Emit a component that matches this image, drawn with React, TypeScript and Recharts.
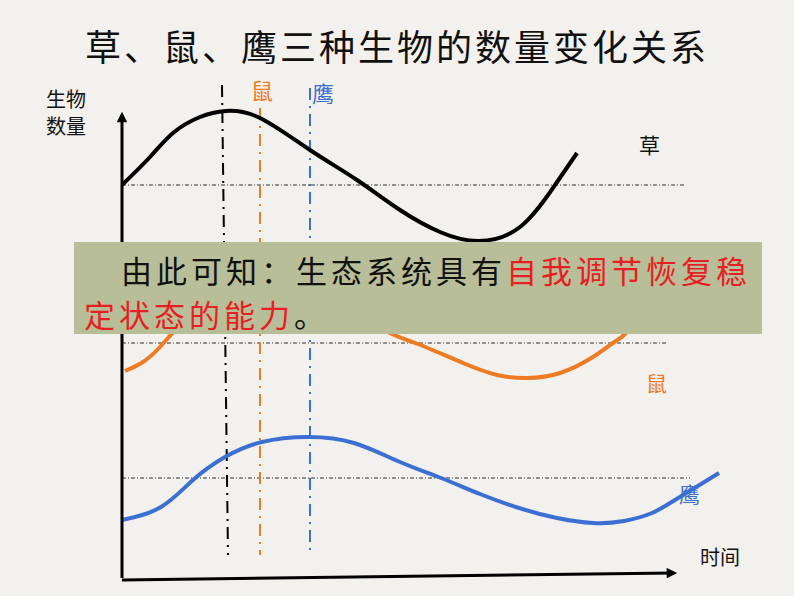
import { ComposedChart, Line, XAxis, YAxis, ReferenceLine } from "recharts";

// 时间轴单位 / 数量单位
const grassTime = [0, 2.8, 5.1, 7.8, 10.4, 13.8, 18.8, 23.5, 27.8, 31.8, 35.6, 39.8, 43.3, 45.5];
const grassCount = [78.6, 84.2, 89, 92.2, 93.4, 92, 85.6, 79.6, 73.6, 69.2, 67.4, 70.2, 78.6, 85];

const mouseTime = [0.3, 2.1, 3.8, 5.8, 8.8, 11.8, 14, 17.8, 22.8, 27, 29.6, 34.1, 37.5, 40.5, 43.8, 47.1, 49.1, 50.3, 51.8];
const mouseCount = [41.4, 43.2, 46.2, 50.6, 55.6, 58, 58.6, 57.2, 53, 48.8, 46.8, 43, 40.6, 40, 41, 44.2, 47, 48.8, 52.6];

const hawkTime = [0, 3.9, 7.1, 10.3, 14, 18.6, 23.2, 27.8, 31.9, 35.8, 39.7, 43.5, 47.1, 50.2, 53, 55.3, 59.7];
const hawkCount = [11.6, 14.2, 19.6, 24.2, 27.2, 28.2, 27, 23.2, 20, 16.8, 14, 12, 11, 11.4, 13, 15.6, 21];

// 平衡水平（虚线）
const grassLevel = 78.6;
const mouseLevel = 47;
const hawkLevel = 20;

// 各自峰值时刻
const grassPeak = 10.3;
const mousePeak = 13.8;
const hawkPeak = 18.8;

const toRows = (ts: number[], vs: number[]) => ts.map((t, i) => ({ t, v: vs[i] }));

const grassData = toRows(grassTime, grassCount);
const mouseData = toRows(mouseTime, mouseCount);
const hawkData = toRows(hawkTime, hawkCount);

const ORANGE = "#ee7a22";
const BLUE = "#3c6fd2";
const RED = "#e61f25";
const FONT = '"Noto Sans CJK SC", "Noto Sans", sans-serif';

const label = (text: string, left: number, top: number, size: number, color: string) => (
  <div style={{ position: "absolute", left, top, fontSize: size, color, lineHeight: 1, fontFamily: FONT }}>{text}</div>
);

export default function App() {
  return (
    <div
      style={{
        position: "absolute",
        left: 0,
        top: 0,
        width: 794,
        height: 596,
        overflow: "hidden",
        background: "#f3f1ed",
        fontFamily: FONT,
      }}
    >
      <div
        style={{
          position: "absolute",
          left: 0,
          width: 794,
          top: 27,
          textAlign: "center",
          fontSize: 36,
          letterSpacing: 3,
          lineHeight: 1,
          color: "#111",
        }}
      >
        草、鼠、鹰三种生物的数量变化关系
      </div>

      <div style={{ position: "absolute", left: 0, top: 0 }}>
        <ComposedChart width={794} height={596} margin={{ top: 98, right: 72, left: 122, bottom: 18 }}>
          <defs>
            <marker id="arrowHead" viewBox="0 0 10 10" refX="7" refY="5" markerWidth="4" markerHeight="3.5" orient="auto">
              <path d="M0,0 L10,5 L0,10 z" fill="#000" />
            </marker>
          </defs>
          <XAxis type="number" dataKey="t" domain={[0, 60]} hide allowDataOverflow />
          <YAxis type="number" dataKey="v" domain={[0, 96]} hide allowDataOverflow />

          <ReferenceLine segment={[{ x: 0, y: grassLevel }, { x: 56.3, y: grassLevel }]} ifOverflow="visible" stroke="#333" strokeWidth={1} strokeDasharray="4 2 1 2" />
          <ReferenceLine segment={[{ x: 0, y: mouseLevel }, { x: 54.4, y: mouseLevel }]} ifOverflow="visible" stroke="#333" strokeWidth={1} strokeDasharray="4 2 1 2" />
          <ReferenceLine segment={[{ x: 0, y: hawkLevel }, { x: 56.8, y: hawkLevel }]} ifOverflow="visible" stroke="#333" strokeWidth={1} strokeDasharray="4 2 1 2" />

          <ReferenceLine segment={[{ x: grassPeak - 0.3, y: 98.6 }, { x: grassPeak + 0.3, y: 4.6 }]} ifOverflow="visible" stroke="#000" strokeWidth={2} strokeDasharray="12 6 2 6" />
          <ReferenceLine segment={[{ x: mousePeak, y: 94 }, { x: mousePeak, y: 4.6 }]} ifOverflow="visible" stroke={ORANGE} strokeWidth={2} strokeDasharray="12 6 2 6" />
          <ReferenceLine segment={[{ x: hawkPeak, y: 98 }, { x: hawkPeak, y: 4.6 }]} ifOverflow="visible" stroke={BLUE} strokeWidth={2} strokeDasharray="12 6 2 6" />

          <Line data={grassData} dataKey="v" type="natural" stroke="#000" strokeWidth={4} dot={false} isAnimationActive={false} />
          <Line data={mouseData} dataKey="v" type="natural" stroke={ORANGE} strokeWidth={4} dot={false} isAnimationActive={false} />
          <Line data={hawkData} dataKey="v" type="natural" stroke={BLUE} strokeWidth={4} dot={false} isAnimationActive={false} />

          <ReferenceLine segment={[{ x: 0, y: 0 }, { x: 0, y: 92.6 }]} ifOverflow="visible" stroke="#000" strokeWidth={3} markerEnd="url(#arrowHead)" />
          <ReferenceLine segment={[{ x: 0, y: -0.4 }, { x: 55.2, y: 1 }]} ifOverflow="visible" stroke="#000" strokeWidth={3} markerEnd="url(#arrowHead)" />
        </ComposedChart>
      </div>

      {label("生物", 46, 89, 20, "#111")}
      {label("数量", 46, 116, 20, "#111")}
      {label("鼠", 251, 78, 22, ORANGE)}
      {label("鹰", 312, 81, 22, BLUE)}
      {label("草", 639, 134, 21, "#111")}
      {label("鼠", 646, 372, 21, ORANGE)}
      {label("鹰", 679, 483, 21, BLUE)}
      {label("时间", 700, 547, 20, "#111")}

      <div
        style={{
          position: "absolute",
          left: 74,
          top: 242,
          width: 688,
          height: 92,
          background: "#b8be97",
          fontSize: 31,
          letterSpacing: 4,
          lineHeight: "44px",
          color: "#111",
          boxSizing: "border-box",
          paddingTop: 6,
          paddingLeft: 10,
        }}
      >
        <div style={{ paddingLeft: 37 }}>
          由此可知：生态系统具有<span style={{ color: RED }}>自我调节恢复稳</span>
        </div>
        <div>
          <span style={{ color: RED }}>定状态的能力</span>。
        </div>
      </div>
    </div>
  );
}
